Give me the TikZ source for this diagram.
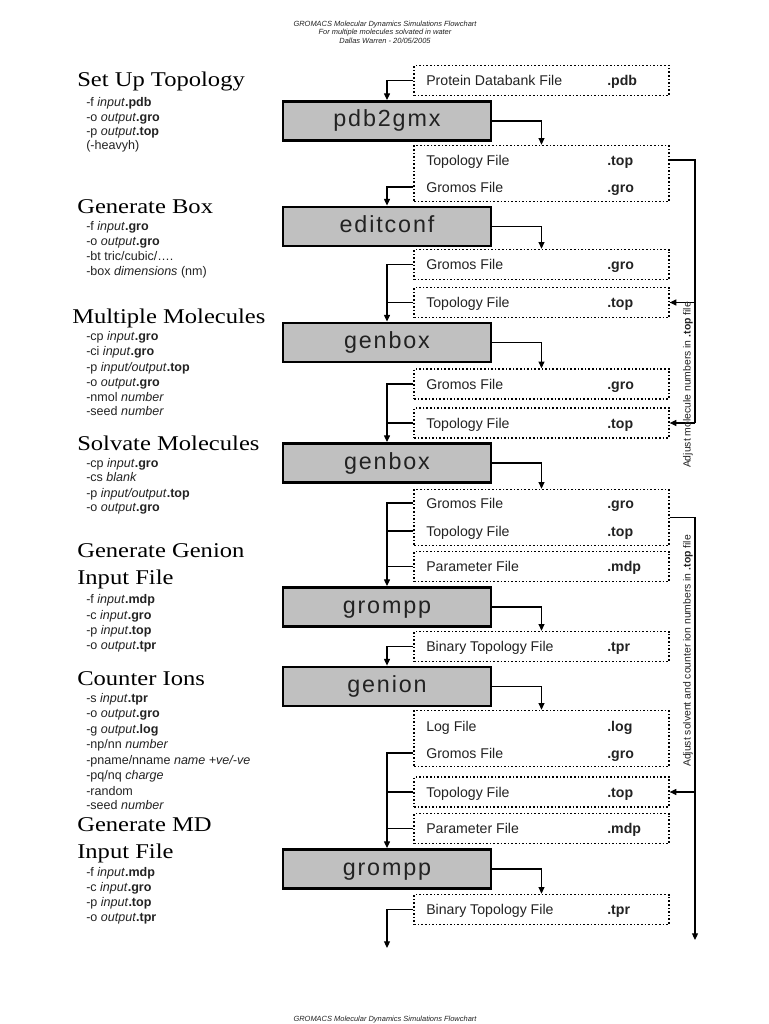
\documentclass[tikz,border=0pt]{standalone}
\usepackage{fontspec}
\setmainfont{Liberation Sans}
\newfontfamily\headfont[FakeStretch=1.17]{Liberation Serif}
\newfontfamily\toolfont[LetterSpace=8]{Liberation Sans}
\usetikzlibrary{arrows.meta}

\definecolor{toolgray}{RGB}{192,192,192}
\definecolor{inkgray}{RGB}{34,34,34}

\tikzset{
  tool/.style={draw, line width=1.9pt, fill=toolgray, minimum width=156pt, minimum height=29.5pt,
    inner sep=0pt, text height=12.5pt, text depth=3.5pt, text=inkgray,
    font=\toolfont\fontsize{17.5}{19}\selectfont},
  filebox/.style={draw, line width=1.2pt, dash pattern=on 1.2pt off 1.5pt, minimum width=191pt,
    inner sep=0pt},
  onerow/.style={filebox, minimum height=22.5pt},
  tworow/.style={filebox, minimum height=42pt},
  row/.style={anchor=west, inner sep=0pt, text height=7.6pt, text depth=0pt, text=inkgray,
    font=\fontsize{10.6}{12}\selectfont},
  ext/.style={row, font=\bfseries\fontsize{10.6}{12}\selectfont},
  head/.style={anchor=west, inner sep=0pt, text height=10.5pt, text depth=0pt,
    font=\headfont\fontsize{15.75}{18}\selectfont},
  opt/.style={anchor=west, inner sep=0pt, text height=6.8pt, text depth=0pt, text=inkgray,
    font=\fontsize{9.4}{11}\selectfont},
  hdr/.style={inner sep=0pt, text=inkgray, font=\itshape\fontsize{5.6}{6}\selectfont},
  vlabel/.style={rotate=90, inner sep=0pt, text=inkgray, font=\fontsize{7.8}{9}\selectfont},
  wire/.style={line width=0.8pt},
  conn/.style={wire, -{Triangle[length=5pt,width=4.5pt]}}
}

\begin{document}
\begin{tikzpicture}[x=0.75pt,y=-0.75pt]

    \useasboundingbox (0,0) rectangle (768,1024);

    % title lines
    \node[hdr] (title) at (385,25) {GROMACS Molecular Dynamics Simulations Flowchart};
    \node[hdr] (subtitle) at (385,33) {For multiple molecules solvated in water};
    \node[hdr] (author) at (385,41) {Dallas Warren - 20/05/2005};
    \node[hdr] (footer) at (385,1020) {GROMACS Molecular Dynamics Simulations Flowchart};

    % left column: steps and their options
    \node[head] (hSetup) at (77,79) {Set Up Topology};
    \foreach \y/\t [count=\i] in {102/{-f \textit{input}\textbf{.pdb}}, 117/{-o \textit{output}\textbf{.gro}},
        131/{-p \textit{output}\textbf{.top}}, 145/{(-heavyh)}}
    \node[opt] (oSetup-\i) at (86,\y) {\t};

    \node[head] (hBox) at (77,206) {Generate Box};
    \foreach \y/\t [count=\i] in {226/{-f \textit{input}\textbf{.gro}}, 241/{-o \textit{output}\textbf{.gro}},
        256/{-bt tric/cubic/….}, 271/{-box \textit{dimensions} (nm)}}
    \node[opt] (oBox-\i) at (86,\y) {\t};

    \node[head] (hMulti) at (72,316) {Multiple Molecules};
    \foreach \y/\t [count=\i] in {336/{-cp \textit{input}\textbf{.gro}}, 351/{-ci \textit{input}\textbf{.gro}},
        367/{-p \textit{input/output}\textbf{.top}}, 382/{-o \textit{output}\textbf{.gro}},
        397/{-nmol \textit{number}}, 411/{-seed \textit{number}}}
    \node[opt] (oMulti-\i) at (86,\y) {\t};

    \node[head] (hSolv) at (77,443) {Solvate Molecules};
    \foreach \y/\t [count=\i] in {463/{-cp \textit{input}\textbf{.gro}}, 477/{-cs \textit{blank}},
        493/{-p \textit{input/output}\textbf{.top}}, 507/{-o \textit{output}\textbf{.gro}}}
    \node[opt] (oSolv-\i) at (86,\y) {\t};

    \node[head] (hGenion) at (77,550) {Generate Genion};
    \node[head] (hGenion-2) at (77,577) {Input File};
    \foreach \y/\t [count=\i] in {599/{-f \textit{input}\textbf{.mdp}}, 615/{-c \textit{input}\textbf{.gro}},
        630/{-p \textit{input}\textbf{.top}}, 645/{-o \textit{output}\textbf{.tpr}}}
    \node[opt] (oGenion-\i) at (86,\y) {\t};

    \node[head] (hIons) at (77,678) {Counter Ions};
    \foreach \y/\t [count=\i] in {698/{-s \textit{input}\textbf{.tpr}}, 713/{-o \textit{output}\textbf{.gro}},
        729/{-g \textit{output}\textbf{.log}}, 744/{-np/nn \textit{number}},
        760/{-pname/nname \textit{name +ve/-ve}}, 775/{-pq/nq \textit{charge}},
        791/{-random}, 805/{-seed \textit{number}}}
    \node[opt] (oIons-\i) at (86,\y) {\t};

    \node[head] (hMD) at (77,824) {Generate MD};
    \node[head] (hMD-2) at (77,851) {Input File};
    \foreach \y/\t [count=\i] in {872/{-f \textit{input}\textbf{.mdp}}, 887/{-c \textit{input}\textbf{.gro}},
        902/{-p \textit{input}\textbf{.top}}, 917/{-o \textit{output}\textbf{.tpr}}}
    \node[opt] (oMD-\i) at (86,\y) {\t};

    % programs
    \node[tool] (pdb2gmx) at (387,121) {pdb2gmx};
    \node[tool] (editconf) at (387,226.5) {editconf};
    \node[tool] (genboxA) at (387,342.5) {genbox};
    \node[tool] (genboxB) at (387,463) {genbox};
    \node[tool] (gromppA) at (387,607) {grompp};
    \node[tool] (genion) at (387,686.5) {genion};
    \node[tool] (gromppB) at (387,869) {grompp};

    % files
    \node[onerow] (pdbF) at (541.5,80.5) {};
    \node[row] (pdbF-r) at (426,80.5) {Protein Databank File};
    \node[ext] (pdbF-x) at (607,80.5) {.pdb};

    \node[tworow] (topB) at (541.5,173.5) {};
    \node[row] (topB-top) at (426,160) {Topology File};
    \node[ext] (topB-topx) at (607,160) {.top};
    \node[row] (topB-gro) at (426,187) {Gromos File};
    \node[ext] (topB-grox) at (607,187) {.gro};

    \node[onerow] (groC) at (541.5,264.5) {};
    \node[row] (groC-r) at (426,264.5) {Gromos File};
    \node[ext] (groC-x) at (607,264.5) {.gro};

    \node[onerow] (topD) at (541.5,302.5) {};
    \node[row] (topD-r) at (426,302.5) {Topology File};
    \node[ext] (topD-x) at (607,302.5) {.top};

    \node[onerow] (groE) at (541.5,384) {};
    \node[row] (groE-r) at (426,384) {Gromos File};
    \node[ext] (groE-x) at (607,384) {.gro};

    \node[onerow] (topF) at (541.5,423) {};
    \node[row] (topF-r) at (426,423) {Topology File};
    \node[ext] (topF-x) at (607,423) {.top};

    \node[tworow] (gtG) at (541.5,517.5) {};
    \node[row] (gtG-gro) at (426,503) {Gromos File};
    \node[ext] (gtG-grox) at (607,503) {.gro};
    \node[row] (gtG-top) at (426,531) {Topology File};
    \node[ext] (gtG-topx) at (607,531) {.top};

    \node[onerow] (mdpH) at (541.5,566.5) {};
    \node[row] (mdpH-r) at (426,566.5) {Parameter File};
    \node[ext] (mdpH-x) at (607,566.5) {.mdp};

    \node[onerow] (tprI) at (541.5,646.5) {};
    \node[row] (tprI-r) at (426,646.5) {Binary Topology File};
    \node[ext] (tprI-x) at (607,646.5) {.tpr};

    \node[tworow] (lgJ) at (541.5,738.5) {};
    \node[row] (lgJ-log) at (426,726) {Log File};
    \node[ext] (lgJ-logx) at (607,726) {.log};
    \node[row] (lgJ-gro) at (426,753) {Gromos File};
    \node[ext] (lgJ-grox) at (607,753) {.gro};

    \node[onerow] (topK) at (541.5,792) {};
    \node[row] (topK-r) at (426,792) {Topology File};
    \node[ext] (topK-x) at (607,792) {.top};

    \node[onerow] (mdpL) at (541.5,828.5) {};
    \node[row] (mdpL-r) at (426,828.5) {Parameter File};
    \node[ext] (mdpL-x) at (607,828.5) {.mdp};

    \node[onerow] (tprM) at (541.5,909.5) {};
    \node[row] (tprM-r) at (426,909.5) {Binary Topology File};
    \node[ext] (tprM-x) at (607,909.5) {.tpr};

    % free ends and the feedback bus
    \coordinate (mdEnd) at (387,948);
    \coordinate (solvEnd) at (695,940);
    \coordinate (bus) at (695,0);

    % main flow
    \draw[conn] (pdbF.west) -| (pdb2gmx.north);
    \draw[conn] (pdb2gmx.east) -| (topB.north);
    \draw[conn] (topB-gro -| topB.west) -| (editconf.north);
    \draw[conn] (editconf.east) -| (groC.north);
    \draw[conn] (groC.west) -| (genboxA.north);
    \draw[wire] (topD.west) -- (topD.west -| genboxA.north);
    \draw[conn] (genboxA.east) -| (groE.north);
    \draw[conn] (groE.west) -| (genboxB.north);
    \draw[wire] (topF.west) -- (topF.west -| genboxB.north);
    \draw[conn] (genboxB.east) -| (gtG.north);
    \draw[conn] (gtG-gro -| gtG.west) -| (gromppA.north);
    \draw[wire] (gtG-top -| gtG.west) -- (gtG-top -| gromppA.north);
    \draw[wire] (mdpH.west) -- (mdpH.west -| gromppA.north);
    \draw[conn] (gromppA.east) -| (tprI.north);
    \draw[conn] (tprI.west) -| (genion.north);
    \draw[conn] (genion.east) -| (lgJ.north);
    \draw[conn] (lgJ-gro -| lgJ.west) -| (gromppB.north);
    \draw[wire] (topK.west) -- (topK.west -| gromppB.north);
    \draw[wire] (mdpL.west) -- (mdpL.west -| gromppB.north);
    \draw[conn] (gromppB.east) -| (tprM.north);
    \draw[conn] (tprM.west) -| (mdEnd);

    % topology feedback
    \draw[wire] (topB-top -| topB.east) -| (bus |- topF.east);
    \draw[conn] (bus |- topD.east) -- (topD.east);
    \draw[conn] (bus |- topF.east) -- (topF.east);
    \node[vlabel] (adjMol) at (688,385) {Adjust molecule numbers in \textbf{.top} file};

    \draw[conn] (gtG.east) -| (solvEnd);
    \draw[conn] (bus |- topK.east) -- (topK.east);
    \node[vlabel] (adjIon) at (688,651) {Adjust solvent and counter ion numbers in \textbf{.top} file};

\end{tikzpicture}
\end{document}
